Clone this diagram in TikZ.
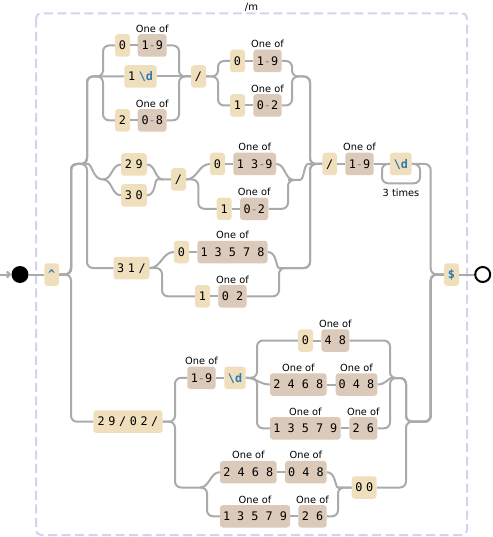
\documentclass[tikz,border=0pt]{standalone}
\usepackage{fontspec}
\setmonofont{DejaVu Sans Mono}
\setsansfont{DejaVu Sans}
\usetikzlibrary{arrows.meta}
\definecolor{litc}{RGB}{239,223,188}
\definecolor{clsc}{RGB}{219,202,185}
\definecolor{linec}{RGB}{170,170,170}
\definecolor{bluec}{RGB}{44,122,178}
\definecolor{dashc}{RGB}{120,120,125}
\definecolor{borderc}{RGB}{210,210,242}
\newcommand{\rg}{{\color{dashc}-}}
\newcommand{\ls}{\kern3.6pt}
\newcommand{\esc}[1]{{\bfseries\color{bluec}#1}}
\begin{document}
\begin{tikzpicture}[x=1pt,y=-1pt,
  box/.style={rounded corners=3pt, inner sep=0pt, minimum height=22.5pt, text height=8.46pt, text depth=0pt, font=\ttfamily\fontsize{11.8}{12}\selectfont, anchor=center},
  lit/.style={box, fill=litc},
  cls/.style={box, fill=clsc},
  conn/.style={draw=linec, line width=2pt, rounded corners=6pt},
  note/.style={font=\sffamily\fontsize{9.8}{10}\selectfont, inner sep=0pt, anchor=base},
]
\useasboundingbox (0,0) rectangle (492,537);
\draw[borderc, line width=2pt, dash pattern=on 9pt off 4.5pt, rounded corners=5pt] (36,13.3) rectangle (467,535);
\node[note, font=\sffamily\fontsize{10}{10}\selectfont] (flags) at (251.5,10.5) {/m};

% terminals
\node[circle, fill=black, minimum size=17pt, inner sep=0pt] (S) at (20,274.5) {};
\node[circle, draw=black, fill=white, line width=2pt, minimum size=15pt, inner sep=0pt] (E) at (482.7,274.5) {};
\coordinate (in) at (0,274.5);
\node[lit, minimum width=14.7pt] (caret) at (51.7,274.5) {\esc{\^{}}};
\node[lit, minimum width=15pt] (dollar) at (451.5,274.5) {\esc{\$}};

% group 1
\node[lit, minimum width=15pt] (g1a0) at (122.5,45.5) {0};
\node[cls, minimum width=29pt] (g1a19) at (152.2,45.5) {1\rg9};
\node[lit, minimum width=32.4pt] (g1b) at (140.5,76.5) {1\ls\esc{\textbackslash d}};
\node[lit, minimum width=15pt] (g1c2) at (122.5,120.3) {2};
\node[cls, minimum width=29pt] (g1c08) at (152.2,120.3) {0\rg8};
\node[lit, minimum width=15pt] (g1s) at (198.5,76.5) {/};
\node[lit, minimum width=15pt] (g1d0) at (237.5,61) {0};
\node[cls, minimum width=28.4pt] (g1d19) at (267.5,61) {1\rg9};
\node[lit, minimum width=15pt] (g1e1) at (237.5,105.5) {1};
\node[cls, minimum width=28.4pt] (g1e02) at (267.5,105.5) {0\rg2};

% group 2
\node[lit, minimum width=25.7pt] (g2a) at (133.9,164.5) {2\ls9};
\node[lit, minimum width=25.7pt] (g2b) at (133.9,195.3) {3\ls0};
\node[lit, minimum width=15pt] (g2s) at (178.5,179.5) {/};
\node[lit, minimum width=15pt] (g2c0) at (217.5,164) {0};
\node[cls, minimum width=42.7pt] (g2c) at (254.7,164) {1 3\rg9};
\node[lit, minimum width=15pt] (g2d1) at (224.2,208.8) {1};
\node[cls, minimum width=28.3pt] (g2d02) at (254.2,208.8) {0\rg2};

% group 3
\node[lit, minimum width=36pt] (g3) at (131.5,268) {3\ls1\ls/};
\node[lit, minimum width=15pt] (g3a0) at (181.5,252) {0};
\node[cls, minimum width=70.4pt] (g3a) at (232.5,252) {1 3 5 7 8};
\node[lit, minimum width=15pt] (g3b1) at (202.5,296.3) {1};
\node[cls, minimum width=28.4pt] (g3b) at (232.5,296.3) {0 2};

% A tail
\node[lit, minimum width=14.7pt] (as) at (329.7,164) {/};
\node[cls, minimum width=28.4pt] (a19) at (359.5,164) {1\rg9};
\node[lit, minimum width=21.7pt] (ad) at (400.85,164) {\esc{\textbackslash d}};
\node[note] (rep) at (401,196.7) {3 times};

% B
\node[lit, minimum width=69.4pt] (b) at (128,421.7) {2\ls9\ls/\ls0\ls2\ls/};
\node[cls, minimum width=28.4pt] (b19) at (201.5,377.8) {1\rg9};
\node[lit, minimum width=21.4pt] (bd) at (235,377.8) {\esc{\textbackslash d}};
\node[lit, minimum width=15pt] (bt0) at (305.5,340.5) {0};
\node[cls, minimum width=28pt] (bt48) at (335.3,340.5) {4 8};
\node[cls, minimum width=56.7pt] (bm1) at (298.35,384.5) {2 4 6 8};
\node[cls, minimum width=41.6pt] (bm2) at (356.5,384.5) {0 4 8};
\node[cls, minimum width=70.7pt] (bb1) at (305.35,428.3) {1 3 5 7 9};
\node[cls, minimum width=28pt] (bb2) at (363.3,428.3) {2 6};
\node[cls, minimum width=56.7pt] (bl1) at (248.35,472.2) {2 4 6 8};
\node[cls, minimum width=41.7pt] (bl2) at (305.85,472.2) {0 4 8};
\node[cls, minimum width=70pt] (bl3) at (255,516.3) {1 3 5 7 9};
\node[cls, minimum width=28.4pt] (bl4) at (312.5,516.3) {2 6};
\node[lit, minimum width=25pt] (b00) at (364.2,487.5) {0\ls0};

% One of labels
\foreach \n in {g1a19,g1c08,g1d19,g1e02,g2c,g2d02,g3a,g3b,a19,b19,bt48,bm1,bm2,bb1,bb2,bl1,bl2,bl3,bl4}{
  \node[note] (\n-l) at ([yshift=1.8pt]\n.north) {One of};
}

% junctions
\coordinate (vA) at (71,164);
\coordinate (vB) at (71,421.7);
\coordinate (xA) at (87,164);
\coordinate (j1L) at (103,76.5);
\coordinate (j1R) at (179,76.5);
\coordinate (j1M) at (218,76.5);
\coordinate (j1V) at (292,76.5);
\coordinate (xC) at (310,164);
\coordinate (xC2) at (314,164);
\coordinate (j2L) at (103,179.5);
\coordinate (j2R) at (163.3,179.5);
\coordinate (j2M) at (198.3,179.5);
\coordinate (j2P) at (288,180);
\coordinate (j2N) at (294,180);
\coordinate (j3M) at (162,268);
\coordinate (j3P) at (279,268);
\coordinate (j3N) at (285,268);
\coordinate (loopL) at (382,183.3);
\coordinate (loopR) at (420,183.3);
\coordinate (xD) at (430.7,274.5);
\coordinate (jBL) at (175,421.7);
\coordinate (jBs) at (200,487.5);
\coordinate (jBv) at (207,487.5);
\coordinate (jBt) at (257,377.8);
\coordinate (jBr) at (390,378);
\coordinate (jBj) at (397,378);
\coordinate (xE) at (406,421.7);
\coordinate (jBp) at (338,487.5);
\coordinate (jBn) at (344,487.5);

% main
\draw[line width=2pt, draw=linec, -{Straight Barb[length=3pt,width=6pt]}] (in) -- (S);
\draw[conn] (S) -- (caret.west);
\draw[conn] (dollar.east) -- (E);
\draw[conn] (caret.east) -| (vA) -- (xA) |- (g1b.west);
\draw[conn] (caret.east) -| (vA) -- (xA) |- (j1L) |- (g1a0.west);
\draw[conn] (caret.east) -| (vA) -- (xA) |- (j1L) |- (g1c2.west);
\draw[conn] (caret.east) -| (vA) -- (xA) |- (g3.west);
\draw[conn] (caret.east) -| (vA) -- ([xshift=-5pt]xA) to[out=0,in=180] (j2L);
\draw[conn] (caret.east) -| (vB) -- (b.west);

% group 1
\draw[conn] (g1a0.east) -- (g1a19.west);
\draw[conn] (g1c2.east) -- (g1c08.west);
\draw[conn] (g1a19.east) -| (j1R) -- (g1s.west);
\draw[conn] (g1c08.east) -| (j1R) -- (g1s.west);
\draw[conn] (g1b.east) -- (g1s.west);
\draw[conn] (g1s.east) -- (j1M) |- (g1d0.west);
\draw[conn] (g1s.east) -- (j1M) |- (g1e1.west);
\draw[conn] (g1d0.east) -- (g1d19.west);
\draw[conn] (g1e1.east) -- (g1e02.west);
\draw[conn] (g1d19.east) -| (j1V) -| (xC) -- (as.west);
\draw[conn] (g1e02.east) -| (j1V) -| (xC) -- (as.west);

% group 2
\draw[conn] (j2L) to[out=0,in=180] (g2a.west);
\draw[conn] (j2L) to[out=0,in=180] (g2b.west);
\draw[conn] (g2a.east) to[out=0,in=180] (j2R);
\draw[conn] (g2b.east) to[out=0,in=180] (j2R) -- (g2s.west);
\draw[conn] (g2s.east) to[out=0,in=180] (g2c0.west);
\draw[conn] (g2s.east) -- (j2M) |- (g2d1.west);
\draw[conn] (g2c0.east) -- (g2c.west);
\draw[conn] (g2d1.east) -- (g2d02.west);
\draw[conn] (g2c.east) to[out=0,in=180] (j2N);
\draw[conn] (g2d02.east) -| (j2P) -- (j2N) to[out=0,in=180] (xC2) -- (as.west);

% group 3
\draw[conn] (g3.east) to[out=0,in=180] (g3a0.west);
\draw[conn] (g3.east) -- (j3M) |- (g3b1.west);
\draw[conn] (g3a0.east) -- (g3a.west);
\draw[conn] (g3b1.east) -- (g3b.west);
\draw[conn] (g3a.east) to[out=0,in=180] (j3N) -| (xC) -- (as.west);
\draw[conn] (g3b.east) -| (j3P) -- (j3N) -| (xC) -- (as.west);

% A tail
\draw[conn] (as.east) -- (a19.west);
\draw[conn] (a19.east) -- (ad.west);
\draw[conn] (ad.west) -| (loopL) -- (loopR) |- (ad.east);
\draw[conn] (ad.east) -| (xD) -- (dollar.west);

% B
\draw[conn] (b.east) -- (jBL) |- (b19.west);
\draw[conn] (b.east) -- (jBL) |- (jBv) |- (bl3.west);
\draw[conn] (jBs) to[out=0,in=180] (bl1.west);
\draw[conn] (b19.east) -- (bd.west);
\draw[conn] (bd.east) -- (jBt) |- (bt0.west);
\draw[conn] (bd.east) -- (jBt) |- (bb1.west);
\draw[conn] (bd.east) to[out=0,in=180] (bm1.west);
\draw[conn] (bt0.east) -- (bt48.west);
\draw[conn] (bm1.east) -- (bm2.west);
\draw[conn] (bb1.east) -- (bb2.west);
\draw[conn] (bt48.east) -| (jBr) -| (xE) -| (xD) -- (dollar.west);
\draw[conn] (bb2.east) -| (jBr) -| (xE) -| (xD) -- (dollar.west);
\draw[conn] (bm2.east) to[out=0,in=180] (jBj) -| (xE) -| (xD) -- (dollar.west);
\draw[conn] (bl1.east) -- (bl2.west);
\draw[conn] (bl3.east) -- (bl4.west);
\draw[conn] (bl2.east) to[out=0,in=180] (jBn) -- (b00.west);
\draw[conn] (bl4.east) -| (jBp) -- (jBn) -- (b00.west);
\draw[conn] (b00.east) -| (xE) -| (xD) -- (dollar.west);
\end{tikzpicture}
\end{document}
